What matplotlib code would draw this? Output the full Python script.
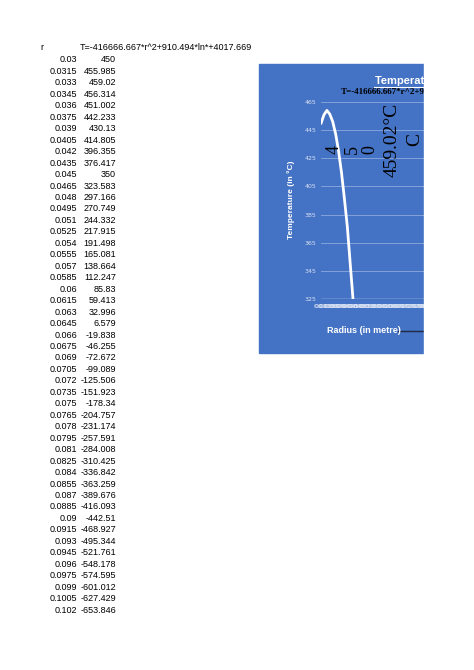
import matplotlib.pyplot as plt
from matplotlib.patches import Rectangle

r_vals = ['0.03', '0.0315', '0.033', '0.0345', '0.036', '0.0375', '0.039', '0.0405', '0.042',
          '0.0435', '0.045', '0.0465', '0.048', '0.0495', '0.051', '0.0525', '0.054', '0.0555',
          '0.057', '0.0585', '0.06', '0.0615', '0.063', '0.0645', '0.066', '0.0675', '0.069',
          '0.0705', '0.072', '0.0735', '0.075', '0.0765', '0.078', '0.0795', '0.081', '0.0825',
          '0.084', '0.0855', '0.087', '0.0885', '0.09', '0.0915', '0.093', '0.0945', '0.096',
          '0.0975', '0.099', '0.1005', '0.102']
t_vals = [450, 455.985, 459.02, 456.314, 451.002, 442.233, 430.13, 414.805, 396.355,
          376.417, 350, 323.583, 297.166, 270.749, 244.332, 217.915, 191.498, 165.081,
          138.664, 112.247, 85.83, 59.413, 32.996, 6.579, -19.838, -46.255, -72.672,
          -99.089, -125.506, -151.923, -178.34, -204.757, -231.174, -257.591, -284.008,
          -310.425, -336.842, -363.259, -389.676, -416.093, -442.51, -468.927, -495.344,
          -521.761, -548.178, -574.595, -601.012, -627.429, -653.846]
formula = 'T=-416666.667*r^2+910.494*ln*+4017.669'

W, H = 474, 670
fig = plt.figure(figsize=(4.74, 6.7), dpi=100)
def fx(x): return x / W
def fy(y): return 1 - y / H

# table
fig.text(fx(40), fy(47), 'r', fontsize=6.5, va='center', family='Liberation Sans')
fig.text(fx(80), fy(47), formula, fontsize=6.5, va='center', family='Liberation Sans')
for i, (r, t) in enumerate(zip(r_vals, t_vals)):
    y = 60 + i * 11.46
    fig.text(fx(77), fy(y), r, fontsize=6.5, ha='right', va='center', family='Liberation Sans')
    fig.text(fx(116), fy(y), f'{t:g}', fontsize=6.5, ha='right', va='center', family='Liberation Sans')

# chart background
fig.patches.append(Rectangle((fx(259), fy(353)), fx(424 - 259), (353 - 64) / H,
                             transform=fig.transFigure, color='#4472c4', zorder=-5))

ax = fig.add_axes([fx(321), fy(299), fx(140), (299 - 102) / H])
ax.set_zorder(2)
ax.set_facecolor('none')
ax.plot(range(len(t_vals)), t_vals, color='white', lw=2)
ax.set_xlim(-0.03, 4)
ax.set_ylim(325, 465)
ax.set_yticks(range(325, 466, 20))
ax.set_xticks(range(len(r_vals)))
ax.set_xticklabels(r_vals)
ax.tick_params(colors='#d9e2f3', labelsize=4.5, length=0)
ax.grid(axis='y', color='#8eaadb', lw=0.6)
for s in ax.spines.values():
    s.set_visible(False)
ax.axhline(325, color='#d9e2f3', lw=1)

fig.text(fx(291), fy(200), 'Temperature (in °C)', rotation=90, color='white', fontsize=6,
         fontweight='bold', ha='center', va='center', family='Liberation Sans')
fig.text(fx(327), fy(331), 'Radius (in metre)', color='white', fontsize=6.5,
         fontweight='bold', va='center', family='Liberation Sans')
fig.lines.append(plt.Line2D([fx(398), fx(424)], [fy(331), fy(331)], transform=fig.transFigure,
                            color='#1f2a44', lw=1))
fig.text(fx(375), fy(81), 'Temperature distribution', color='white', fontsize=8,
         fontweight='bold', va='center', family='Liberation Sans')
fig.lines.append(plt.Line2D([fx(374), fx(424)], [fy(87), fy(87)], transform=fig.transFigure,
                            color='white', lw=0.8))
fig.text(fx(341), fy(92), formula, fontsize=6.5, fontweight='bold', va='center',
         family='Liberation Serif', zorder=5)
fig.text(fx(352), fy(150), '4\n5\n0', rotation=90, fontsize=13, ha='center', va='center',
         multialignment='center', family='Liberation Serif', linespacing=1.1, zorder=5)
fig.text(fx(392), fy(140), '459.02°C', rotation=90, fontsize=14, ha='center', va='center',
         family='Liberation Serif', zorder=5)
fig.text(fx(415), fy(140), 'C', rotation=90, fontsize=14, ha='center', va='center',
         family='Liberation Serif', zorder=5)

# page edge
fig.patches.append(Rectangle((fx(424), 0), fx(50), 1, transform=fig.transFigure,
                             color='white', zorder=10))
ax.set_clip_on(True)

fig.savefig('out.png', dpi=100)
